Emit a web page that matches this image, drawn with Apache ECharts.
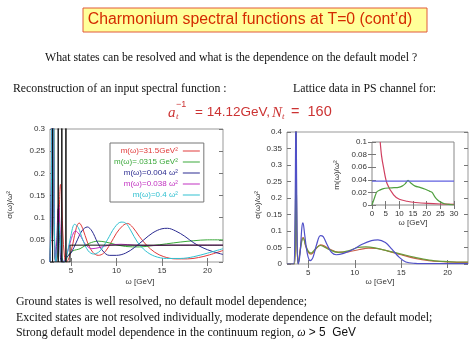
<!DOCTYPE html>
<html><head><meta charset="utf-8">
<script src="https://cdn.jsdelivr.net/npm/echarts@6/dist/echarts.min.js"></script>
<style>html,body{margin:0;padding:0;background:#fff}#c{width:474px;height:355px}</style>
</head><body><div id="c"></div>
<script>
// ---------- DATA ----------
const leftXTicks = [5, 10, 15, 20];
const rightXTicks = [5, 10, 15, 20];
const insetXTicks = [0, 5, 10, 15, 20, 25, 30];
const legendNames = ['m(ω)=31.5GeV²', 'm(ω)=.0315 GeV²', 'm(ω)=0.004 ω²', 'm(ω)=0.038 ω²', 'm(ω)=0.4 ω²'];

// input spectral function (left)
const inputSpec = [[2.7,0],[2.98,0],[2.98,0.5],[2.98,0],[3.6,0],[3.6,0.5],[3.6,0],[4.0,0],[4.0,0.5],[4.0,0],[4.45,0],[4.45,0.5],[4.45,0],[4.9,0],[4.9,0.038],[21.7,0.038]];
// reconstructions (left)
const recRed = [[2.7,0],[2.85,0.1],[2.95,0.4],[3.05,0.4],[3.2,0.05],[3.35,0],[3.55,0.02],[3.7,0.1],[3.85,0.175],[3.95,0.16],[4.1,0.07],[4.3,0.01],[4.5,0],[4.8,0.01],[5.2,0.04],[5.6,0.078],[5.9,0.088],[6.3,0.075],[6.8,0.045],[7.4,0.022],[8.0,0.015],[8.6,0.02],[9.3,0.04],[10.0,0.065],[10.7,0.082],[11.2,0.087],[11.8,0.078],[12.5,0.058],[13.3,0.038],[14.2,0.022],[15.2,0.012],[16.5,0.007],[17.8,0.007],[19.0,0.01],[20.2,0.016],[21.7,0.026]];
const recGreen = [[2.7,0],[2.85,0.12],[2.95,0.4],[3.05,0.4],[3.2,0.04],[3.35,0],[3.55,0.03],[3.7,0.07],[3.85,0.04],[4.0,0.0],[4.3,0.0],[4.7,0.015],[5.2,0.025],[6.0,0.03],[7.0,0.042],[8.0,0.047],[8.8,0.045],[9.8,0.04],[11.0,0.035],[12.5,0.034],[14.0,0.037],[15.5,0.041],[17.0,0.045],[18.5,0.048],[20.0,0.05],[21.7,0.05]];
const recBlue = [[2.7,0],[2.85,0.2],[2.95,0.4],[3.05,0.4],[3.15,0.1],[3.3,0],[3.45,0.05],[3.6,0.12],[3.75,0.06],[3.95,0],[4.2,0.0],[4.5,0.01],[5.0,0.02],[5.6,0.045],[6.2,0.07],[6.8,0.079],[7.3,0.07],[7.9,0.045],[8.5,0.025],[9.2,0.015],[10.0,0.015],[11.0,0.02],[12.0,0.033],[13.0,0.05],[14.0,0.066],[15.0,0.075],[15.6,0.076],[16.5,0.07],[17.5,0.058],[18.5,0.043],[19.5,0.032],[20.5,0.024],[21.7,0.017]];
const recMagenta = [[2.7,0],[2.85,0.1],[2.95,0.35],[3.05,0.3],[3.2,0.05],[3.35,0],[3.5,0.05],[3.65,0.13],[3.8,0.08],[3.95,0.01],[4.2,0],[4.6,0.02],[5.0,0.05],[5.5,0.07],[6.0,0.06],[6.6,0.04],[7.3,0.03],[8.2,0.033],[9.2,0.038],[10.5,0.04],[12,0.038],[14,0.037],[16,0.038],[18,0.038],[20,0.038],[21.7,0.038]];
const recCyan = [[2.7,0],[2.85,0.15],[2.95,0.4],[3.05,0.4],[3.2,0.05],[3.35,0],[3.5,0.03],[3.65,0.09],[3.8,0.06],[4.0,0.01],[4.3,0.0],[4.6,0.02],[5.0,0.06],[5.4,0.085],[5.8,0.078],[6.3,0.05],[6.9,0.025],[7.5,0.018],[8.2,0.025],[9.0,0.05],[9.8,0.078],[10.5,0.09],[11.0,0.088],[11.6,0.07],[12.3,0.045],[13.2,0.025],[14.2,0.013],[15.5,0.008],[17.0,0.008],[18.5,0.012],[20.0,0.02],[21.7,0.03]];

// lattice PS channel (right)
const latBlue = [[2.7,0],[3.4,0],[3.55,0.1],[3.67,0.5],[3.78,0.1],[3.9,0],[4.1,0.03],[4.3,0.11],[4.42,0.125],[4.6,0.09],[4.9,0.03],[5.2,0.01],[5.5,0.02],[5.9,0.06],[6.3,0.086],[6.6,0.083],[7.0,0.06],[7.5,0.035],[8.0,0.028],[8.8,0.032],[9.8,0.044],[10.8,0.06],[11.8,0.071],[12.5,0.073],[13.3,0.065],[14.0,0.045],[14.8,0.02],[15.5,0.006],[16.5,0.002],[18,0.001],[22.2,0.001]];
const latRed = [[2.7,0],[3.5,0],[3.6,0.1],[3.67,0.45],[3.75,0.1],[3.9,0],[4.1,0.04],[4.3,0.075],[4.45,0.08],[4.7,0.055],[5.0,0.035],[5.3,0.03],[5.8,0.045],[6.3,0.058],[6.7,0.055],[7.3,0.045],[8.2,0.036],[9.3,0.037],[10.5,0.044],[11.5,0.048],[12.3,0.047],[13.5,0.04],[15,0.028],[16.5,0.017],[18,0.01],[19.5,0.007],[21,0.005],[22.2,0.005]];
const latGreen = [[2.7,0],[3.5,0],[3.6,0.1],[3.67,0.45],[3.75,0.1],[3.9,0],[4.1,0.035],[4.3,0.07],[4.45,0.078],[4.7,0.058],[5.0,0.038],[5.3,0.033],[5.8,0.047],[6.3,0.056],[6.7,0.052],[7.3,0.043],[8.2,0.035],[9.3,0.04],[10.3,0.05],[11.2,0.052],[12.3,0.048],[13.5,0.04],[15,0.03],[16.5,0.02],[18,0.012],[19.5,0.008],[21,0.006],[22.2,0.006]];

// default models (inset)
const defRed = [[3.0,0.1],[3.5,0.078],[4.2,0.06],[5.5,0.034],[7.9,0.016],[10,0.009],[12.8,0.006],[16,0.004],[20.5,0.0025],[25,0.0016],[30,0.001]];
const defBlue = [[0,0.038],[30,0.038]];
const defGreen = [[0,0],[0.8,0.01],[1.8,0.021],[3,0.024],[4.2,0.026],[6,0.027],[8,0.0275],[9.7,0.028],[11,0.03],[12.2,0.034],[13.2,0.039],[14.2,0.035],[15.8,0.03],[17.5,0.028],[19.5,0.025],[21,0.022],[22,0.02],[23,0.013],[24,0.008],[25,0.005],[26.5,0.002],[28,0.001],[30,0]];

// ---------- CHART ----------
const SANS = 'Liberation Sans, Arial, sans-serif';
const SERIF = 'Liberation Serif, Times New Roman, serif';
const tickCol = '#777';
const lblStyle = {fontSize: 8, color: '#333', fontFamily: SANS};

function xAx(grid, min, max, ticks, showLbl, pos) {
  return {type: 'value', gridIndex: grid, min: min, max: max, position: pos,
    axisLine: {show: false}, splitLine: {show: false},
    axisTick: {show: true, inside: true, length: 4, lineStyle: {color: tickCol}, customValues: ticks},
    axisLabel: Object.assign({show: showLbl, margin: 5, customValues: ticks}, lblStyle)};
}
function yAx(grid, min, max, interval, showLbl, pos) {
  return {type: 'value', gridIndex: grid, min: min, max: max, interval: interval, position: pos,
    axisLine: {show: false}, splitLine: {show: false},
    axisTick: {show: true, inside: true, length: 4, lineStyle: {color: tickCol}},
    axisLabel: Object.assign({show: showLbl, margin: 5}, lblStyle)};
}

const chart = echarts.init(document.getElementById('c'), null, {renderer: 'canvas'});
const leftColors = ['#e03a3a', '#3aa83a', '#2a2a90', '#c030c0', '#30c0d0'];
const leftData = [recRed, recGreen, recBlue, recMagenta, recCyan];

const series = [];
leftData.forEach((d, i) => series.push({name: legendNames[i], type: 'line', xAxisIndex: 0, yAxisIndex: 0, data: d,
  smooth: 0.35, showSymbol: false, lineStyle: {width: 1, color: leftColors[i]}, itemStyle: {color: leftColors[i]}}));
series.push({name: 'input', type: 'line', xAxisIndex: 0, yAxisIndex: 0, data: inputSpec, showSymbol: false,
  lineStyle: {width: 1, color: '#111'}, z: 3});
[[latRed, '#c8604a'], [latGreen, '#6a9a3a'], [latBlue, '#5050c8']].forEach(p => series.push({type: 'line',
  xAxisIndex: 2, yAxisIndex: 2, data: p[0], smooth: 0.35, showSymbol: false, lineStyle: {width: 1.2, color: p[1]}}));
[[defRed, '#d04060'], [defGreen, '#50a040'], [defBlue, '#6060e0']].forEach(p => series.push({type: 'line',
  xAxisIndex: 4, yAxisIndex: 4, data: p[0], smooth: 0.3, showSymbol: false, lineStyle: {width: 1.2, color: p[1]}}));

function txt(x, y, text, font, fill, extra) {
  return Object.assign({type: 'text', x: x, y: y, silent: true,
    style: Object.assign({text: text, font: font, fill: fill || '#000', align: 'left', verticalAlign: 'middle'}, extra || {})});
}

const option = {
  animation: false,
  backgroundColor: '#fff',
  grid: [
    {left: 50, top: 129, width: 173, height: 133, show: true, borderColor: '#999', borderWidth: 1, backgroundColor: 'transparent'},
    {left: 287, top: 132, width: 181, height: 132, show: true, borderColor: '#999', borderWidth: 1, backgroundColor: 'transparent'},
    {left: 372, top: 142, width: 82, height: 63, show: true, borderColor: '#888', borderWidth: 1, backgroundColor: '#fff'}
  ],
  xAxis: [
    xAx(0, 2.7, 21.7, leftXTicks, true, 'bottom'), xAx(0, 2.7, 21.7, leftXTicks, false, 'top'),
    xAx(1, 2.7, 22.2, rightXTicks, true, 'bottom'), xAx(1, 2.7, 22.2, rightXTicks, false, 'top'),
    xAx(2, 0, 30, insetXTicks, true, 'bottom'), xAx(2, 0, 30, insetXTicks, false, 'top')
  ],
  yAxis: [
    yAx(0, 0, 0.3, 0.05, true, 'left'), yAx(0, 0, 0.3, 0.05, false, 'right'),
    yAx(1, 0, 0.4, 0.05, true, 'left'), yAx(1, 0, 0.4, 0.05, false, 'right'),
    yAx(2, 0, 0.1, 0.02, true, 'left'), yAx(2, 0, 0.1, 0.02, false, 'right')
  ],
  legend: {
    left: 110, top: 143, orient: 'vertical', align: 'right', icon: 'rect', itemWidth: 17, itemHeight: 1,
    itemGap: 3, padding: [4, 4, 3, 4], borderColor: '#777', borderWidth: 1, backgroundColor: '#fff',
    textStyle: {fontSize: 8, fontFamily: SANS, width: 68, align: 'right'},
    data: legendNames.map((n, i) => ({name: n, textStyle: {color: leftColors[i]}}))
  },
  series: series,
  graphic: [
    {type: 'rect', shape: {x: 83, y: 8, width: 344, height: 24}, style: {fill: '#ffff99', stroke: '#e05a3a', lineWidth: 1}, silent: true},
    txt(250, 20, 'Charmonium spectral functions at T=0 (cont’d)', '15.8px ' + SANS, '#d42a00', {align: 'center'}),
    txt(45, 58, 'What states can be resolved and what is the dependence on the default model ?', '11.8px ' + SERIF, '#111'),
    txt(13, 89, 'Reconstruction of an input spectral function :', '11.8px ' + SERIF, '#111'),
    txt(293, 89, 'Lattice data in PS channel for:', '11.8px ' + SERIF, '#111'),
    // formula
    txt(168, 113, 'a', 'italic 15px ' + SERIF, '#cc3333'),
    txt(176, 117, 't', 'italic 9px ' + SERIF, '#cc3333'),
    txt(176, 105, '−1', '9px ' + SANS, '#cc3333'),
    txt(195, 112, '= 14.12GeV,', '13.5px ' + SANS, '#cc3333'),
    txt(272, 113, 'N', 'italic 15px ' + SERIF, '#cc3333'),
    txt(282, 117, 't', 'italic 9px ' + SERIF, '#cc3333'),
    txt(291, 112, '=  160', '14.5px ' + SANS, '#cc3333'),
    // axis titles
    txt(10, 205, 'σ(ω)/ω²', '8px ' + SANS, '#333', {align: 'center'}),
    txt(140, 282, 'ω [GeV]', '8px ' + SANS, '#333', {align: 'center'}),
    txt(258, 205, 'σ(ω)/ω²', '8px ' + SANS, '#333', {align: 'center'}),
    txt(380, 282, 'ω [GeV]', '8px ' + SANS, '#333', {align: 'center'}),
    txt(337, 175, 'm(ω)/ω²', '8px ' + SANS, '#333', {align: 'center'}),
    txt(413, 223, 'ω [GeV]', '8px ' + SANS, '#333', {align: 'center'}),
    // bottom text
    txt(16, 302, 'Ground states is well resolved, no default model dependence;', '11.85px ' + SERIF, '#111'),
    txt(16, 318, 'Excited states are not resolved individually, moderate dependence on the default model;', '11.85px ' + SERIF, '#111'),
    {type: 'text', x: 16, y: 333, silent: true, style: {
      text: '{a|Strong default model dependence in the continuum region, }{w|ω}{b| > 5  GeV}',
      verticalAlign: 'middle', fill: '#111',
      rich: {a: {font: '11.85px ' + SERIF, fill: '#111'}, w: {font: 'italic 11.85px ' + SERIF, fill: '#111'}, b: {font: '11.85px ' + SANS, fill: '#111'}}}}
  ]
};
// rotate y-axis titles
[12, 14, 16].forEach(i => { option.graphic[i].rotation = Math.PI / 2; });
chart.setOption(option);
</script></body></html>
